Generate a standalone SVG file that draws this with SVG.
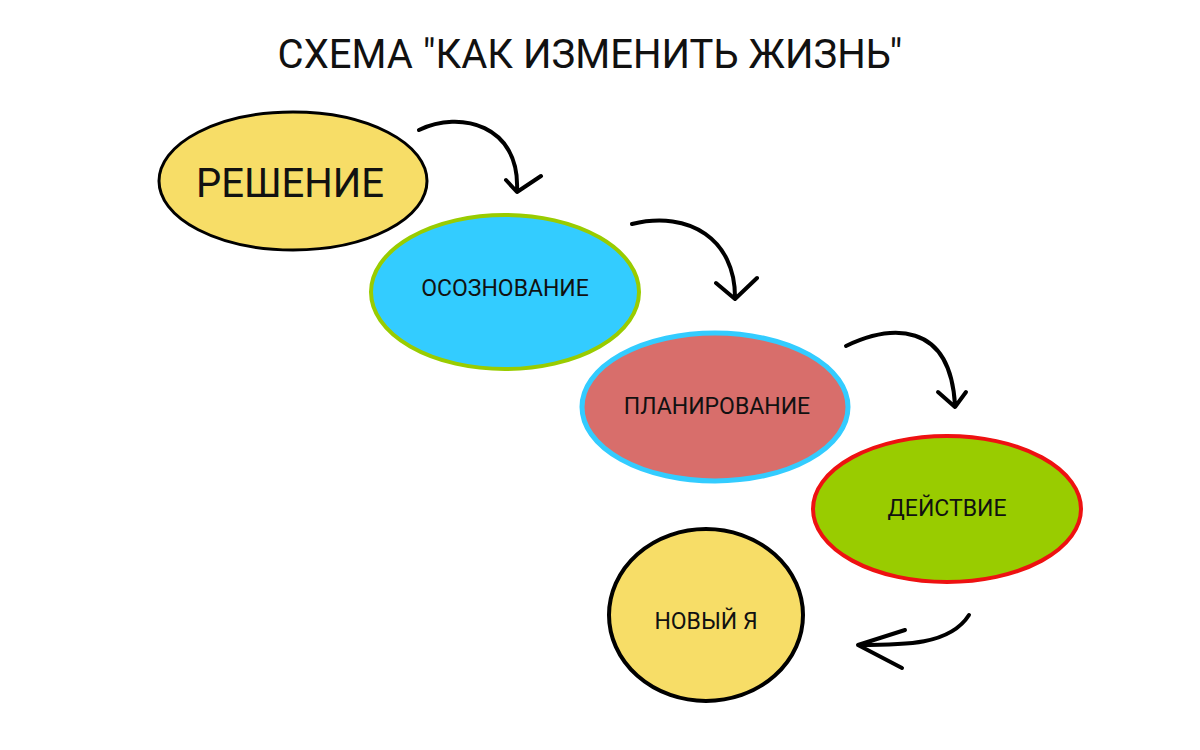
<svg xmlns="http://www.w3.org/2000/svg" width="1200" height="750" viewBox="0 0 1200 750">
<style>
text{font-family:Roboto,"Liberation Sans",sans-serif;text-anchor:middle;fill:#111}
.a{fill:none;stroke:#000;stroke-width:4;stroke-linecap:round;stroke-linejoin:round}
</style>
<rect width="1200" height="750" fill="#fff"/>
<text x="590" y="68" font-size="40">СХЕМА "КАК ИЗМЕНИТЬ ЖИЗНЬ"</text>
<g id="n1"><ellipse cx="293" cy="181" rx="134" ry="69" fill="#f7dd67" stroke="#000" stroke-width="3"/><text x="290" y="186" font-size="40" dominant-baseline="middle">РЕШЕНИЕ</text></g>
<g id="n2"><ellipse cx="505" cy="292" rx="134" ry="77" fill="#33ccff" stroke="#99cc00" stroke-width="4"/><text x="505" y="290" font-size="23" dominant-baseline="middle">ОСОЗНОВАНИЕ</text></g>
<g id="n3"><ellipse cx="715" cy="407" rx="133" ry="74" fill="#d86e6b" stroke="#33ccff" stroke-width="5"/><text x="717" y="408" font-size="23" dominant-baseline="middle">ПЛАНИРОВАНИЕ</text></g>
<g id="n4"><ellipse cx="947" cy="509" rx="134" ry="73" fill="#99cc00" stroke="#ee1111" stroke-width="4"/><text x="947" y="510" font-size="23" dominant-baseline="middle">ДЕЙСТВИЕ</text></g>
<g id="n5"><ellipse cx="706" cy="615" rx="97" ry="86" fill="#f7dd67" stroke="#000" stroke-width="4"/><text x="706" y="623" font-size="23" dominant-baseline="middle">НОВЫЙ Я</text></g>
<g id="connectors">
<path class="a" d="M419 130 C460 110 520 125 517 190 M506 180 L517 192 L541 176"/>
<path class="a" d="M632 224 C690 210 735 240 735 297 M716 283 L735 299 L757 278"/>
<path class="a" d="M846 346 C890 325 950 320 955 405 M938 392 L955 407 L966 392"/>
<path class="a" d="M969 615 C950 645 905 645 858 645 M905 630 L858 645 L902 668"/>
</g>
</svg>
